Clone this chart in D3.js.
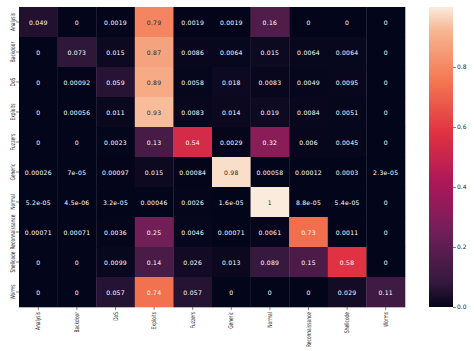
<!DOCTYPE html>
<html>
<head>
<meta charset="utf-8">
<script src="https://cdn.jsdelivr.net/npm/d3@7"></script>
<style>
  body { margin: 0; background: #fff; }
  text { font-family: "DejaVu Sans", sans-serif; }
</style>
</head>
<body>
<div id="chart"></div>
<script>
const labels = ["Analysis", "Backdoor", "DoS", "Exploits", "Fuzzers", "Generic", "Normal", "Reconnaissance", "Shellcode", "Worms"];

const valueRows = [
  ["0.049", "0", "0.0019", "0.79", "0.0019", "0.0019", "0.16", "0", "0", "0"],
  ["0", "0.073", "0.015", "0.87", "0.0086", "0.0064", "0.015", "0.0064", "0.0064", "0"],
  ["0", "0.00092", "0.059", "0.89", "0.0058", "0.018", "0.0083", "0.0049", "0.0095", "0"],
  ["0", "0.00056", "0.011", "0.93", "0.0083", "0.014", "0.019", "0.0084", "0.0051", "0"],
  ["0", "0", "0.0023", "0.13", "0.54", "0.0029", "0.32", "0.006", "0.0045", "0"],
  ["0.00026", "7e-05", "0.00097", "0.015", "0.00084", "0.98", "0.00058", "0.00012", "0.0003", "2.3e-05"],
  ["5.2e-05", "4.5e-06", "3.2e-05", "0.00046", "0.0026", "1.6e-05", "1", "8.8e-05", "5.4e-05", "0"],
  ["0.00071", "0.00071", "0.0036", "0.25", "0.0046", "0.00071", "0.0061", "0.73", "0.0011", "0"],
  ["0", "0", "0.0099", "0.14", "0.026", "0.013", "0.089", "0.15", "0.58", "0"],
  ["0", "0", "0.057", "0.74", "0.057", "0", "0", "0", "0.029", "0.11"]
];

const colorbarTicks = [0, 0.2, 0.4, 0.6, 0.8];

// rocket colormap (seaborn), sampled stops
const rocketPos = [0, 0.083, 0.25, 0.417, 0.583, 0.75, 0.917, 1];
const rocketHex = ["#03051a", "#35193e", "#701f57", "#ad1759", "#e13342", "#f37651", "#f6b48f", "#faebdd"];

const W = 474, H = 351;
const plot = {left: 19, top: 7, right: 405, bottom: 307};
const labelFont = "'Liberation Sans Narrow', 'DejaVu Sans', sans-serif";

const svg = d3.select("#chart").append("svg")
  .attr("width", W).attr("height", H);

const x = d3.scaleBand().domain(labels).range([plot.left, plot.right]);
const y = d3.scaleBand().domain(labels).range([plot.top, plot.bottom]);
const color = d3.scaleLinear()
  .domain(rocketPos)
  .range(rocketHex)
  .interpolate(d3.interpolateRgb)
  .clamp(true);

const cells = [];
valueRows.forEach((row, i) => row.forEach((v, j) => cells.push({r: labels[i], c: labels[j], s: v, v: +v})));

// same rule seaborn uses for annotation colour
function lum(c) {
  const rgb = d3.rgb(c);
  const f = u => { u /= 255; return u <= 0.03928 ? u / 12.92 : Math.pow((u + 0.055) / 1.055, 2.4); };
  return 0.2126 * f(rgb.r) + 0.7152 * f(rgb.g) + 0.0722 * f(rgb.b);
}

svg.append("g").selectAll("rect")
  .data(cells)
  .join("rect")
  .attr("x", d => x(d.c))
  .attr("y", d => y(d.r))
  .attr("width", x.bandwidth() + 0.3)
  .attr("height", y.bandwidth() + 0.3)
  .attr("fill", d => color(d.v));

svg.append("g").selectAll("text")
  .data(cells)
  .join("text")
  .attr("x", d => x(d.c) + x.bandwidth() / 2)
  .attr("y", d => y(d.r) + y.bandwidth() / 2)
  .attr("text-anchor", "middle")
  .attr("dominant-baseline", "central")
  .style("font-size", "6.1px")
  .style("letter-spacing", "0.25px")
  .attr("fill", d => d.v >= 0.78 ? "#262626" : "#ffffff")
  .text(d => d.s);

// axes
const xAxis = svg.append("g")
  .attr("transform", `translate(0,${plot.bottom})`)
  .call(d3.axisBottom(x).tickSize(3));
xAxis.select(".domain").remove();
xAxis.selectAll("line").attr("stroke", "#333").attr("stroke-width", 0.6);
xAxis.selectAll("text")
  .attr("transform", "rotate(-90) scale(0.68,1)")
  .attr("text-anchor", "end")
  .attr("x", -5 / 0.68)
  .attr("y", 0)
  .attr("dy", "0.32em")
  .attr("fill", "#262626")
  .style("font-family", labelFont)
  .style("font-size", "6.4px");

const yAxis = svg.append("g")
  .attr("transform", `translate(${plot.left},0)`)
  .call(d3.axisLeft(y).tickSize(3));
yAxis.select(".domain").remove();
yAxis.selectAll("line").attr("stroke", "#333").attr("stroke-width", 0.6);
yAxis.selectAll("text")
  .attr("transform", "rotate(-90) scale(0.68,1)")
  .attr("text-anchor", "middle")
  .attr("x", 0)
  .attr("y", -4)
  .attr("dy", "0")
  .attr("fill", "#262626")
  .style("font-family", labelFont)
  .style("font-size", "6.4px");

// colorbar
const cb = {x: 429, w: 24};
const cbScale = d3.scaleLinear().domain([0, 1]).range([plot.bottom, plot.top]);
const defs = svg.append("defs");
const grad = defs.append("linearGradient").attr("id", "cbgrad")
  .attr("x1", 0).attr("y1", 1).attr("x2", 0).attr("y2", 0);
grad.selectAll("stop")
  .data(d3.range(0, 1.0001, 0.02))
  .join("stop")
  .attr("offset", d => d)
  .attr("stop-color", d => color(d));

svg.append("rect")
  .attr("x", cb.x)
  .attr("y", plot.top)
  .attr("width", cb.w)
  .attr("height", plot.bottom - plot.top)
  .attr("fill", "url(#cbgrad)");

const cbAxis = svg.append("g")
  .attr("transform", `translate(${cb.x + cb.w},0)`)
  .call(d3.axisRight(cbScale).tickValues(colorbarTicks).tickFormat(d3.format(".1f")).tickSize(3));
cbAxis.select(".domain").remove();
cbAxis.selectAll("line").attr("stroke", "#333").attr("stroke-width", 0.6);
cbAxis.selectAll("text")
  .attr("x", 4)
  .attr("fill", "#262626")
  .style("font-size", "6px");
</script>
</body>
</html>
